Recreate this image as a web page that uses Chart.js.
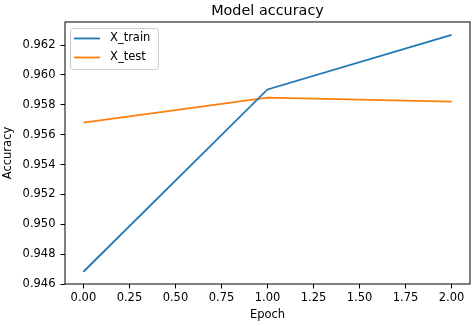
<!DOCTYPE html>
<html>
<head>
<meta charset="utf-8">
<script src="https://cdn.jsdelivr.net/npm/chart.js@4/dist/chart.umd.min.js"></script>
<style>
  html, body { margin: 0; padding: 0; background: #fff; }
  #c { display: block; }
</style>
</head>
<body>
<canvas id="c" width="474" height="326"></canvas>
<script>
// ---- data ----
const epochs = [0, 1, 2];
const trainAcc = [0.94682, 0.95903, 0.96269];
const testAcc = [0.95681, 0.95848, 0.95821];
const seriesLabels = ['X_train', 'X_test'];
const xTickValues = [0, 0.25, 0.5, 0.75, 1, 1.25, 1.5, 1.75, 2];
const xTickLabels = ['0.00', '0.25', '0.50', '0.75', '1.00', '1.25', '1.50', '1.75', '2.00'];
const yTickValues = [0.946, 0.948, 0.95, 0.952, 0.954, 0.956, 0.958, 0.96, 0.962];
const yTickLabels = ['0.946', '0.948', '0.950', '0.952', '0.954', '0.956', '0.958', '0.960', '0.962'];

const FONT = "'DejaVu Sans', 'Liberation Sans', sans-serif";
const FS = 11.5;
Chart.defaults.font.family = FONT;
Chart.defaults.color = '#000';

const frameAndLegend = {
  id: 'frameAndLegend',
  afterDraw(chart) {
    const { ctx, chartArea: a } = chart;
    ctx.save();
    // frame
    ctx.strokeStyle = '#000';
    ctx.lineWidth = 1;
    ctx.strokeRect(a.left, a.top, a.right - a.left, a.bottom - a.top);
    // legend in upper left
    const lx = a.left + 5, ly = a.top + 6, lw = 88, lh = 41;
    ctx.fillStyle = 'rgba(255,255,255,0.8)';
    ctx.strokeStyle = '#cccccc';
    ctx.lineWidth = 1;
    ctx.beginPath();
    if (ctx.roundRect) ctx.roundRect(lx + 0.5, ly + 0.5, lw, lh, 3);
    else ctx.rect(lx + 0.5, ly + 0.5, lw, lh);
    ctx.fill();
    ctx.stroke();
    ctx.font = FS + 'px ' + FONT;
    ctx.textBaseline = 'middle';
    chart.data.datasets.forEach((ds, i) => {
      const y = ly + 10.5 + i * 19;
      ctx.strokeStyle = ds.borderColor;
      ctx.lineWidth = 1.8;
      ctx.beginPath();
      ctx.moveTo(lx + 4, y);
      ctx.lineTo(lx + 30, y);
      ctx.stroke();
      ctx.fillStyle = '#000';
      ctx.fillText(ds.label, lx + 40, y);
    });
    ctx.restore();
  }
};

const toPts = (xs, ys) => xs.map((x, i) => ({ x: x, y: ys[i] }));

new Chart(document.getElementById('c'), {
  type: 'line',
  data: {
    datasets: [
      { label: seriesLabels[0], data: toPts(epochs, trainAcc), borderColor: '#1f77b4', backgroundColor: '#1f77b4', borderWidth: 1.8, pointRadius: 0, tension: 0, fill: false },
      { label: seriesLabels[1], data: toPts(epochs, testAcc), borderColor: '#ff7f0e', backgroundColor: '#ff7f0e', borderWidth: 1.8, pointRadius: 0, tension: 0, fill: false }
    ]
  },
  options: {
    responsive: false,
    animation: false,
    layout: { padding: { left: 0, right: 4, top: 0, bottom: 0 } },
    plugins: {
      legend: { display: false },
      tooltip: { enabled: false },
      title: {
        display: true,
        fullSize: false,
        text: 'Model accuracy',
        font: { size: 14.4, weight: 'normal', lineHeight: 1.2 },
        padding: { top: 2.5, bottom: 2.2 },
        color: '#000'
      }
    },
    scales: {
      x: {
        type: 'linear',
        min: -0.1,
        max: 2.1,
        afterBuildTicks(s) { s.ticks = xTickValues.map(v => ({ value: v })); },
        afterFit(s) { s.height = 42; },
        ticks: {
          autoSkip: false, maxRotation: 0, padding: 3,
          font: { size: FS },
          callback: (v, i) => xTickLabels[i]
        },
        grid: { drawOnChartArea: false, drawTicks: true, tickLength: 4.5, color: '#000', lineWidth: 1 },
        border: { display: false },
        title: { display: true, text: 'Epoch', font: { size: FS, lineHeight: 1.2 }, padding: { top: 2, bottom: 4 } }
      },
      y: {
        type: 'linear',
        min: 0.946,
        max: 0.96355,
        afterBuildTicks(s) { s.ticks = yTickValues.map(v => ({ value: v })); },
        afterFit(s) { s.width = 65; },
        ticks: {
          autoSkip: false, padding: 5,
          font: { size: FS },
          callback: (v, i) => yTickLabels[i]
        },
        grid: { drawOnChartArea: false, drawTicks: true, tickLength: 4.5, color: '#000', lineWidth: 1 },
        border: { display: false },
        title: { display: true, text: 'Accuracy', font: { size: FS, lineHeight: 1.2 }, padding: { top: 1, bottom: 2 } }
      }
    }
  },
  plugins: [frameAndLegend]
});
</script>
</body>
</html>
